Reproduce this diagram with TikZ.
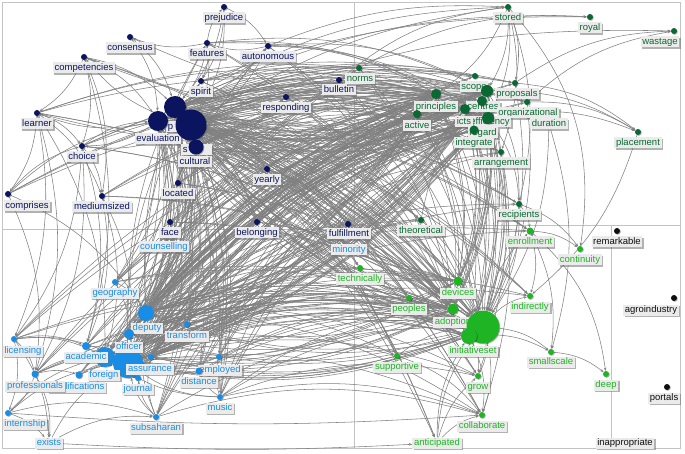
\documentclass[tikz,border=0pt]{standalone}
\usepackage{fontspec}
\setmainfont{Liberation Sans}
\usetikzlibrary{arrows.meta,shadows}
\pgfdeclarelayer{edges}
\pgfsetlayers{edges,main}
\definecolor{nv}{RGB}{10,20,95}
\definecolor{dg}{RGB}{10,105,50}
\definecolor{bl}{RGB}{25,140,230}
\definecolor{gr}{RGB}{30,180,35}
\definecolor{bk}{RGB}{15,15,15}
\definecolor{ln}{RGB}{128,128,128}
\definecolor{fr}{RGB}{195,195,195}
\newcommand{\Lb}[5]{\node[lab,text=#5] (#1-l) at (#2,#3) {#4};}
\newcommand{\Dt}[5]{\node[dt,minimum size=#4pt,fill=#5] (#1) at (#2,#3) {};}
\begin{document}
\begin{tikzpicture}[x=1pt,y=-1pt,
  lab/.style={fill=white!92!black, inner xsep=1.6pt, inner ysep=1pt, text height=7pt, text depth=2pt,
    font=\fontsize{9.5}{10}\selectfont,
    drop shadow={shadow xshift=1.4pt,shadow yshift=-1.4pt,opacity=0.55,fill=black!55}},
  dt/.style={circle,inner sep=0pt,draw=none,
    drop shadow={shadow xshift=0.8pt,shadow yshift=-0.8pt,opacity=0.3,fill=black}},
  ed/.style={draw=ln, line width=0.55pt, -{Stealth[length=3.2pt,width=2.6pt]}, bend left=16}]
\useasboundingbox (0,0) rectangle (685,454);

% ---------- dots under labels ----------
\Dt{bb1}{105}{357}{20}{bl}
\Dt{bb2}{128}{363}{30}{bl}

% ---------- labels ----------
% navy
\Lb{prej}{224}{18}{prejudice}{nv}
\Lb{cons}{130}{48}{consensus}{nv}
\Lb{feat}{207}{54}{features}{nv}
\Lb{auto}{268}{57}{autonomous}{nv}
\Lb{comp}{84}{68}{competencies}{nv}
\Lb{spir}{201}{92}{spirit}{nv}
\Lb{bull}{339}{90}{bulletin}{nv}
\Lb{resp}{286}{108}{responding}{nv}
\Lb{lear}{37}{124}{learner}{nv}
\Lb{ev1}{158}{139}{evaluation}{nv}
\node[lab,text=nv,anchor=west] (ev3-l) at (166,127) {p\phantom{olicy}};
\node[lab,text=nv,anchor=west] (ev4-l) at (181,150) {s\phantom{chool}};
\Lb{ev2}{195}{162}{cultural}{nv}
\Lb{choi}{82}{157}{choice}{nv}
\Lb{loca}{178}{194}{located}{nv}
\Lb{compr}{27}{206}{comprises}{nv}
\Lb{medi}{102}{207}{mediumsized}{nv}
\Lb{year}{267}{180}{yearly}{nv}
\Lb{face}{170}{233}{face}{nv}
\Lb{belo}{257}{233}{belonging}{nv}
\Lb{fulf}{349}{234}{fulfillment}{nv}
% dark green
\Lb{stor}{508}{18}{stored}{dg}
\Lb{roya}{590}{28}{royal}{dg}
\Lb{wast}{660}{42}{wastage}{dg}
\Lb{norm}{360}{79}{norms}{dg}
\Lb{scop}{474}{87}{scope}{dg}
\Lb{prop}{517}{94}{proposals}{dg}
\Lb{prin}{436}{107}{principles}{dg}
\Lb{acti}{417}{126}{active}{dg}
\Lb{cent}{483}{107}{centres}{dg}
\Lb{orga}{528}{113}{organizational}{dg}
\Lb{effi}{490}{122}{efficiency}{dg}
\Lb{icts}{464}{122}{icts}{dg}
\Lb{dura}{549}{124}{duration}{dg}
\Lb{rega}{483}{133}{regard}{dg}
\Lb{inte}{474}{143}{integrate}{dg}
\Lb{arra}{501}{163}{arrangement}{dg}
\Lb{plac}{638}{143}{placement}{dg}
\Lb{reci}{519}{215}{recipients}{dg}
\Lb{theo}{421}{231}{theoretical}{dg}
% blue
\Lb{coun}{164}{247}{counselling}{bl}
\Lb{mino}{349}{250}{minority}{bl}
\Lb{geog}{115}{293}{geography}{bl}
\Lb{depu}{147}{328}{deputy}{bl}
\Lb{tran}{187}{336}{transform}{bl}
\Lb{offi}{129}{347}{officer}{bl}
\Lb{lice}{23}{351}{licensing}{bl}
\Lb{acad}{86}{357}{academic}{bl}
\Lb{fore}{104}{375}{foreign}{bl}
\Lb{assu}{150}{369}{assurance}{bl}
\Lb{empl}{220}{370}{employed}{bl}
\Lb{dist}{199}{382}{distance}{bl}
\Lb{qual}{77}{387}{qualifications}{bl}
\Lb{prof}{35}{386}{professionals}{bl}
\Lb{journ}{138}{389}{journal}{bl}
\Lb{musi}{220}{408}{music}{bl}
\Lb{intn}{25}{424}{internship}{bl}
\Lb{subs}{156}{428}{subsaharan}{bl}
\Lb{exis}{49}{443}{exists}{bl}
% green
\Lb{tech}{360}{279}{technically}{gr}
\Lb{peop}{409}{309}{peoples}{gr}
\Lb{devi}{458}{293}{devices}{gr}
\Lb{adop}{453}{322}{adoption}{gr}
\Lb{init}{473}{351}{initiativeset}{gr}
\Lb{enro}{530}{242}{enrollment}{gr}
\Lb{cont}{580}{260}{continuity}{gr}
\Lb{indi}{530}{307}{indirectly}{gr}
\Lb{smal}{551}{362}{smallscale}{gr}
\Lb{deep}{606}{385}{deep}{gr}
\Lb{grow}{478}{387}{grow}{gr}
\Lb{coll}{482}{426}{collaborate}{gr}
\Lb{anti}{437}{443}{anticipated}{gr}
\Lb{supp}{397}{367}{supportive}{gr}
% black
\Lb{rema}{617}{242}{remarkable}{bk}
\Lb{agro}{651}{310}{agroindustry}{bk}
\Lb{port}{664}{398}{portals}{bk}
\Lb{inap}{625}{443}{inappropriate}{bk}

% ---------- dots ----------
\Dt{prej}{224}{7}{6}{nv}
\Dt{cons}{130}{37}{6}{nv}
\Dt{feat}{207}{43}{6}{nv}
\Dt{auto}{268}{46}{6}{nv}
\Dt{comp}{84}{57}{6}{nv}
\Dt{spir}{201}{81}{6}{nv}
\Dt{bull}{339}{80}{6}{nv}
\Dt{resp}{286}{97}{6}{nv}
\Dt{lear}{37}{113}{6}{nv}
\Dt{choi}{82}{146}{6}{nv}
\Dt{loca}{178}{183}{6}{nv}
\Dt{compr}{8}{194}{6}{nv}
\Dt{medi}{102}{196}{6}{nv}
\Dt{year}{267}{169}{6}{nv}
\Dt{face}{170}{222}{6}{nv}
\Dt{belo}{257}{222}{6}{nv}
\Dt{fulf}{348}{224}{6}{nv}
\Dt{ev1}{158}{121}{20}{nv}
\Dt{ev2}{175}{107}{22}{nv}
\Dt{ev3}{191}{125}{31}{nv}
\Dt{ev4}{196}{147}{15}{nv}

\Dt{stor}{508}{7}{6}{dg}
\Dt{roya}{590}{17}{6}{dg}
\Dt{wast}{674}{31}{6}{dg}
\Dt{norm}{359}{68}{6}{dg}
\Dt{scop}{475}{76}{6}{dg}
\Dt{prop}{515}{83}{6}{dg}
\Dt{prin}{436}{94}{10}{dg}
\Dt{acti}{417}{114}{8}{dg}
\Dt{cent1}{487}{91}{12}{dg}
\Dt{cent2}{482}{101}{10}{dg}
\Dt{orga}{527}{102}{6}{dg}
\Dt{icts}{465}{109}{10}{dg}
\Dt{effi}{488}{118}{12}{dg}
\Dt{rega}{474}{130}{9}{dg}
\Dt{arra}{501}{152}{6}{dg}
\Dt{plac}{638}{132}{6}{dg}
\Dt{reci}{519}{204}{6}{dg}
\Dt{theo}{421}{220}{6}{dg}

\Dt{geog}{115}{282}{6}{bl}
\Dt{depu}{146}{313}{16}{bl}
\Dt{tran}{187}{324}{6}{bl}
\Dt{offi}{129}{334}{10}{bl}
\Dt{lice}{14}{339}{6}{bl}
\Dt{acad}{86}{346}{8}{bl}
\Dt{fore}{79}{375}{7}{bl}
\Dt{assu}{151}{357}{6}{bl}
\Dt{empl}{219}{357}{6}{bl}
\Dt{dist}{199}{371}{7}{bl}
\Dt{journ}{138}{378}{6}{bl}
\Dt{prof}{35}{374}{7}{bl}
\Dt{musi}{220}{397}{6}{bl}
\Dt{intn}{8}{413}{6}{bl}
\Dt{subs}{156}{417}{6}{bl}

\Dt{tech}{360}{268}{6}{gr}
\Dt{peop}{409}{298}{6}{gr}
\Dt{devi}{458}{281}{9}{gr}
\Dt{adop}{453}{309}{11}{gr}
\Dt{init1}{483}{327}{33}{gr}
\Dt{init2}{469}{336}{16}{gr}
\Dt{enro}{530}{231}{7}{gr}
\Dt{cont}{580}{249}{6}{gr}
\Dt{indi}{530}{296}{6}{gr}
\Dt{smal}{551}{352}{6}{gr}
\Dt{deep}{606}{374}{6}{gr}
\Dt{grow}{478}{376}{6}{gr}
\Dt{coll}{482}{415}{6}{gr}
\Dt{supp}{397}{356}{6}{gr}

\Dt{rema}{617}{231}{6}{bk}
\Dt{agro}{674}{298}{6}{bk}
\Dt{port}{667}{387}{6}{bk}

% ---------- frame and edges ----------
\begin{pgfonlayer}{edges}
\draw[fr,line width=0.8pt] (2,2) rectangle (680,448);
\draw[fr,line width=0.8pt] (354,2) -- (354,448) (2,229) -- (354,229) (354,225) -- (680,225) (611,225) -- (611,448);

% hub to hub
\foreach \a in {ev1,ev2,ev3,ev4}{\foreach \b in {cent1,cent2,effi,rega,icts,prin,acti}{\draw[ed] (\a) to (\b); \draw[ed] (\b) to (\a);}}
\foreach \a in {ev1,ev2,ev3,ev4}{\foreach \b in {bb1,bb2,depu,offi,assu}{\draw[ed] (\a) to (\b);}}
\foreach \a in {ev1,ev2,ev3,ev4}{\foreach \b in {init1,init2,adop,devi}{\draw[ed] (\a) to (\b); \draw[ed] (\b) to (\a);}}
\foreach \a in {cent1,cent2,effi,rega,icts,prin,acti}{\foreach \b in {bb1,bb2,depu,offi,assu}{\draw[ed] (\a) to (\b); \draw[ed] (\b) to (\a);}}
\foreach \a in {cent1,cent2,effi,rega,icts,prin,acti}{\foreach \b in {init1,init2,adop,devi}{\draw[ed] (\a) to (\b);}}
\foreach \a in {bb1,bb2,depu,offi,assu}{\foreach \b in {init1,init2,adop,devi}{\draw[ed] (\a) to (\b); \draw[ed] (\b) to (\a);}}

% hubs to periphery
\foreach \h in {ev1,ev2,ev3}{\foreach \p in {tech,peop,supp,grow,coll,enro,indi,reci,theo,arra,orga,prop,scop,norm,tran,empl,dist,musi,geog,journ,subs,coun-l,mino-l,fulf,belo,year,dura-l,inte-l,anti-l}{\draw[ed] (\h) to (\p);}}
\foreach \h in {cent1,effi,prin}{\foreach \p in {depu,offi,assu,tran,empl,dist,musi,geog,acad,lice,prof,fore,journ,subs,coun-l,face,belo,loca,year,choi,lear,medi,compr,spir,feat,auto,resp}{\draw[ed] (\p) to (\h);}}
\foreach \h in {init1,adop}{\foreach \p in {spir,feat,auto,resp,year,loca,face,belo,comp,choi,medi,lear,geog,tran,empl,dist,musi,depu,offi,norm,bull,lice,prof,acad,fore}{\draw[ed] (\p) to (\h);}}
\foreach \h in {bb2,depu}{\foreach \p in {bull,resp,norm,scop,prop,orga,arra,theo,reci,tech,peop,supp,enro,indi,year,fulf,belo,spir,auto,feat,grow,coll}{\draw[ed] (\h) to (\p);}}

% navy internal
\foreach \a/\b in {prej/ev2,prej/spir,prej/ev3,prej/auto,feat/prej,cons/ev1,cons/ev2,feat/cons,feat/ev2,feat/ev3,feat/spir,
  auto/ev2,auto/spir,auto/ev3,auto/feat,comp/ev1,comp/lear,comp/choi,comp/medi,comp/ev2,lear/choi,lear/compr,lear/medi,
  lear/lice,lear/prof,choi/medi,choi/ev1,choi/prof,choi/acad,choi/lice,compr/choi,compr/prof,compr/depu,compr/ev1,
  medi/offi,medi/acad,medi/bb1,spir/ev2,loca/ev4,bull/ev3,resp/ev3,year/ev4,face/ev4,ev1/lear,ev3/comp,cent1/cons,
  cent2/lear,prin/comp,ev1/choi,ev3/choi,comp/acad,lear/bb1}{\draw[ed] (\a) to (\b);}
% blue internal
\foreach \a/\b in {lice/prof,lice/intn,lice/exis-l,lice/acad,lice/bb1,lice/bb2,prof/intn,prof/exis-l,prof/bb1,prof/fore,
  prof/bb2,intn/exis-l,intn/bb2,intn/bb1,intn/subs,exis-l/subs,exis-l/bb2,subs/bb2,subs/journ,subs/assu,subs/depu,
  musi/bb2,musi/dist,musi/empl,musi/bb1,geog/bb2,geog/depu,tran/bb2,fore/bb2,acad/bb2,offi/bb2,assu/bb2,journ/bb2,
  dist/bb2,empl/bb2,empl/bb1,dist/bb1,musi/coll,musi/grow,subs/coll,subs/init1}{\draw[ed] (\a) to (\b);}
\draw[ed,bend right=4] (intn) to (coll);
\draw[ed,bend right=3] (exis-l) to (anti-l);
% green / dark green periphery
\foreach \a/\b in {reci/cont,reci/enro,enro/cont,enro/indi,enro/smal,smal/deep,init1/smal,init2/smal,init1/indi,
  init1/grow,init1/coll,init2/coll,init2/grow,anti-l/init1,anti-l/init2,anti-l/grow,anti-l/coll,supp/coll,supp/init1,
  plac/indi,stor/arra,stor/reci,stor/cent1,stor/prop,stor/prin,stor/effi,prop/wast,orga/wast,prop/plac,orga/plac,
  cent1/plac,effi/plac,arra/init1,dura-l/init1,reci/init1,theo/init1,theo/cent1,peop/init1,devi/init1,tech/init1,
  adop/init1,init1/enro,reci/init2,cent1/reci,effi/reci,cent1/grow,effi/coll,orga/init1,prop/init1,dura-l/smal}{\draw[ed] (\a) to (\b);}
\draw[ed,bend left=20] (enro) to (deep);
\draw[ed,bend left=25] (stor) to (cont);
% top arcs
\draw[ed,bend left=14] (ev2) to (stor);
\draw[ed,bend left=12] (ev3) to (stor);
\draw[ed] (bull) to (stor);
\draw[ed,bend left=14] (ev2) to (roya);
\draw[ed] (norm) to (roya);
\draw[ed,bend left=12] (auto) to (stor);
\draw[ed,bend left=10] (spir) to (roya);
\draw[ed,bend left=12] (ev3) to (wast);
\end{pgfonlayer}
\end{tikzpicture}
\end{document}
